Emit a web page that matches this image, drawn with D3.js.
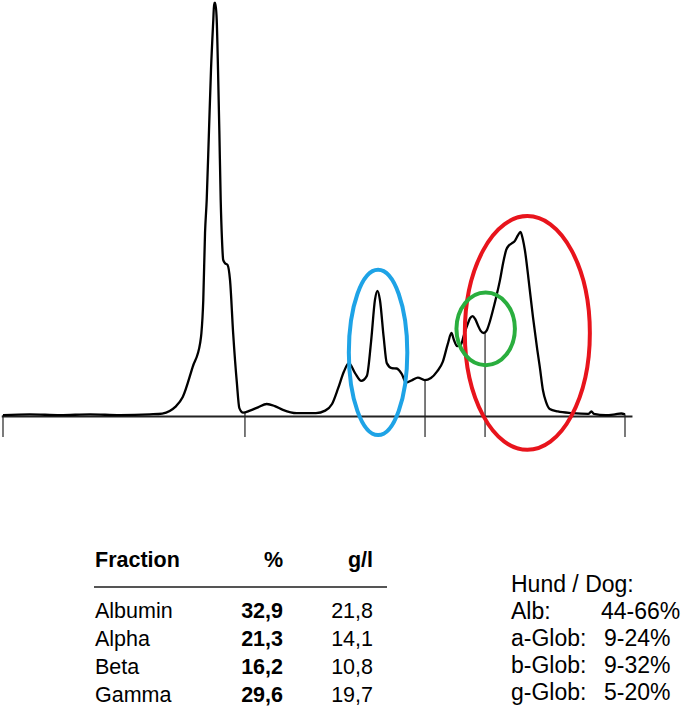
<!DOCTYPE html>
<html>
<head>
<meta charset="utf-8">
<script src="https://cdn.jsdelivr.net/npm/d3@7"></script>
<style>
  html, body { margin: 0; padding: 0; background: #fff; }
  svg { display: block; }
  text { font-family: "Liberation Sans", Arial, sans-serif; fill: #000; }
</style>
</head>
<body>
<svg id="chart" width="685" height="712"></svg>
<script>
// Densitometry trace: relative mobility (0-100) vs relative intensity (0-100)
const mobility = [
  0, 4.3, 9.2, 14.0, 18.8, 23.6, 25.6, 26.8, 27.7, 28.9, 30.5, 31.7, 31.9, 32.2,
  32.48, 32.75, 33.12, 33.44, 33.81, 33.95, 34.13, 34.36, 34.57, 34.78, 35.0, 35.21,
  35.4, 35.7, 36.1, 36.5, 37.0, 37.6, 38.0, 38.6, 39.7, 41.0, 42.4, 43.7, 45.0, 47.2,
  50.3, 51.8, 52.9, 53.9, 54.8, 55.6, 56.6, 57.6, 58.5, 59.2, 59.8, 60.2, 60.6, 61.2,
  61.7, 62.5, 63.3, 64.1, 64.8, 65.8, 66.7, 67.8, 68.8, 69.8, 70.7, 71.5, 72.1, 72.5,
  73.0, 73.6, 74.1, 74.6, 75.1, 75.5, 75.9, 76.4, 76.8, 77.3, 77.8, 78.3, 78.9, 79.4,
  79.9, 80.4, 80.9, 81.4, 81.8, 82.3, 82.8, 83.2, 83.6, 83.9, 84.6, 85.2, 85.9, 86.3,
  86.8, 87.3, 87.9, 89.2, 91.5, 94.1, 94.6, 95.0, 96.9, 98.4, 99.4, 100
];
const intensity = [
  0.2, 0.4, 0.2, 0.4, 0.2, 0.4, 0.6, 1.2, 2.2, 4.6, 11.9, 17.7, 20.1, 28.1,
  44.3, 52.3, 69.2, 83.8, 95.9, 100, 100, 95.9, 83.8, 69.2, 52.3, 42.6,
  37.8, 37.0, 36.6, 32.9, 20.1, 8.0, 1.9, 0.8, 1.3, 2.1, 2.9, 2.4, 1.5, 0.7,
  0.7, 1.3, 2.9, 6.8, 10.7, 12.8, 10.4, 8.5, 9.7, 18.4, 28.1, 30.3, 28.1, 19.1,
  12.8, 11.6, 11.5, 10.2, 8.1, 8.7, 9.3, 8.7, 9.2, 10.8, 13.1, 17.4, 20.1, 18.4,
  16.9, 17.2, 19.6, 21.8, 23.7, 24.2, 23.5, 21.8, 20.6, 20.1, 20.8, 23.0, 26.4, 29.5,
  32.9, 37.0, 40.2, 41.4, 41.8, 42.4, 43.8, 44.6, 42.6, 40.2, 31.7, 24.0, 16.0, 11.9,
  6.3, 3.4, 1.7, 1.1, 0.7, 0.5, 1.1, 0.5, 0.2, 0.4, 0.6, 0.4
];
// Fraction boundaries (mobility units)
const boundaries = [0, 38.9, 67.85, 77.5, 100];

// Highlight ellipses: centre (mobility, intensity) and radii (mobility, intensity units)
const ellipseNames = ["alpha", "betaGamma", "beta2"];
const ellipseCx = [60.3, 84.3, 77.6];
const ellipseCy = [15.4, 20.1, 21.1];
const ellipseRx = [4.7, 10.05, 4.7];
const ellipseRy = [20.0, 28.3, 8.8];
const ellipseColors = ["#1ea3e6", "#e8141c", "#2aae3e"];

// Result table
const tableHeaders = ["Fraction", "%", "g/l"];
const fractions = ["Albumin", "Alpha", "Beta", "Gamma"];
const percents = ["32,9", "21,3", "16,2", "29,6"];
const gPerL = ["21,8", "14,1", "10,8", "19,7"];

// Reference ranges
const refTitle = "Hund / Dog:";
const refLabels = ["Alb:", "a-Glob:", "b-Glob:", "g-Glob:"];
const refRanges = ["44-66%", "9-24%", "9-32%", "5-20%"];

const svg = d3.select("#chart");
const x = d3.scaleLinear().domain([0, 100]).range([3, 625]);
const y = d3.scaleLinear().domain([0, 100]).range([416, 3]);
const baseY = y(0);

const pts = mobility.map((m, i) => [m, intensity[i]]);

// baseline
svg.append("line")
  .attr("x1", x(-0.2)).attr("x2", x(101.2))
  .attr("y1", baseY + 0.5).attr("y2", baseY + 0.5)
  .attr("stroke", "#222").attr("stroke-width", 1.8);

// ticks / separators
const bis = d3.bisector(d => d[0]).left;
function curveAt(m) {
  let i = bis(pts, m);
  if (i <= 0) return pts[0][1];
  if (i >= pts.length) return pts[pts.length - 1][1];
  const a = pts[i - 1], b = pts[i];
  const t = (m - a[0]) / (b[0] - a[0]);
  return a[1] + t * (b[1] - a[1]);
}
svg.append("g").selectAll("line").data(boundaries).join("line")
  .attr("x1", d => x(d)).attr("x2", d => x(d))
  .attr("y1", d => Math.min(y(curveAt(d)), baseY))
  .attr("y2", baseY + 21)
  .attr("stroke", "#222").attr("stroke-width", 1.2);

// trace
const line = d3.line().x(d => x(d[0])).y(d => y(d[1])).curve(d3.curveMonotoneX);
svg.append("path").datum(pts)
  .attr("d", line)
  .attr("fill", "none").attr("stroke", "#000").attr("stroke-width", 2.3)
  .attr("stroke-linejoin", "round");

// ellipses
const kx = x(1) - x(0), ky = y(0) - y(1);
svg.append("g").selectAll("ellipse").data(ellipseNames).join("ellipse")
  .attr("cx", (d, i) => x(ellipseCx[i]))
  .attr("cy", (d, i) => y(ellipseCy[i]))
  .attr("rx", (d, i) => ellipseRx[i] * kx)
  .attr("ry", (d, i) => ellipseRy[i] * ky)
  .attr("fill", "none")
  .attr("stroke", (d, i) => ellipseColors[i])
  .attr("stroke-width", 4);

// table
const tFont = 21.5;
const colX = [95, 283, 373];
const colAnchor = ["start", "end", "end"];
const tbl = svg.append("g");
tbl.selectAll("text.h").data(tableHeaders).join("text")
  .attr("class", "h")
  .attr("x", (d, i) => colX[i]).attr("y", 567)
  .attr("text-anchor", (d, i) => colAnchor[i])
  .attr("font-size", tFont).attr("font-weight", "bold")
  .text(d => d);
tbl.append("line").attr("x1", 94).attr("x2", 387).attr("y1", 587).attr("y2", 587)
  .attr("stroke", "#555").attr("stroke-width", 2);
const rowY = i => 618.3 + i * 27.8;
tbl.selectAll("text.f").data(fractions).join("text").attr("class", "f")
  .attr("x", colX[0]).attr("y", (d, i) => rowY(i))
  .attr("font-size", tFont).text(d => d);
tbl.selectAll("text.p").data(percents).join("text").attr("class", "p")
  .attr("x", colX[1]).attr("y", (d, i) => rowY(i)).attr("text-anchor", "end")
  .attr("font-size", tFont).attr("font-weight", "bold").text(d => d);
tbl.selectAll("text.g").data(gPerL).join("text").attr("class", "g")
  .attr("x", colX[2]).attr("y", (d, i) => rowY(i)).attr("text-anchor", "end")
  .attr("font-size", tFont).text(d => d);

// reference ranges
const rFont = 23;
const ref = svg.append("g");
ref.append("text").attr("x", 511).attr("y", 592).attr("font-size", rFont).text(refTitle);
const refY = i => 619 + i * 27;
ref.selectAll("text.l").data(refLabels).join("text").attr("class", "l")
  .attr("x", 511).attr("y", (d, i) => refY(i)).attr("font-size", rFont).text(d => d);
ref.selectAll("text.r").data(refRanges).join("text").attr("class", "r")
  .attr("x", (d, i) => i === 0 ? 601 : 604).attr("y", (d, i) => refY(i))
  .attr("font-size", rFont).text(d => d);
</script>
</body>
</html>
